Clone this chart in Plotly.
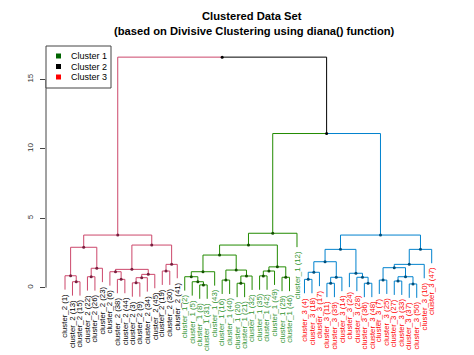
import plotly.graph_objects as go

# ---------------- data ----------------
leaf_labels = [
    "cluster_2 (1)", "cluster_2 (13)", "cluster_2 (15)", "cluster_2 (22)", "cluster_2 (26)",
    "cluster_2 (23)", "cluster_2 (6)", "cluster_2 (38)", "cluster_2 (44)", "cluster_2 (3)",
    "cluster_2 (9)", "cluster_2 (34)", "cluster_2 (45)", "cluster_2 (19)", "cluster_2 (30)",
    "cluster_2 (41)",
    "cluster_1 (2)", "cluster_1 (5)", "cluster_1 (8)", "cluster_1 (31)", "cluster_1 (43)",
    "cluster_1 (16)", "cluster_1 (40)", "cluster_1 (20)", "cluster_1 (21)", "cluster_1 (32)",
    "cluster_1 (35)", "cluster_1 (42)", "cluster_1 (49)", "cluster_1 (29)", "cluster_1 (46)",
    "cluster_1 (12)",
    "cluster_3 (4)", "cluster_3 (18)", "cluster_3 (17)", "cluster_3 (11)", "cluster_3 (39)",
    "cluster_3 (14)", "cluster_3 (24)", "cluster_3 (28)", "cluster_3 (36)", "cluster_3 (48)",
    "cluster_3 (7)", "cluster_3 (25)", "cluster_3 (27)", "cluster_3 (33)", "cluster_3 (37)",
    "cluster_3 (50)", "cluster_3 (10)", "cluster_3 (47)",
]
leaf_group = [2] * 16 + [1] * 16 + [3] * 18

# hclust-style merge table: negative = leaf (display order), positive = earlier merge row
merge_a = [-2, -1, -4, 3, 2, -8, -7, -10, 8, 9, 7, -14, 12, 11, 5,
           -19, -18, -17, 18, -22, -24, 21, 20, 19, -27, 25, -30, 26, 24, 29,
           -33, 31, -36, 33, 32, -41, -40, -39, 35, -43, -45, -47, 41, 40, 44, 45, 39,
           30, 15]
merge_b = [-3, 1, -5, -6, 4, -9, 6, -11, -12, -13, 10, -15, -16, 13, 14,
           -20, 16, 17, -21, -23, -25, -26, 22, 23, -28, -29, -31, 27, 28, -32,
           -34, -35, -37, -38, 34, -42, 36, 37, 38, -44, -46, -48, 42, 43, -49, -50, 46,
           47, 48]
merge_height = [0.43, 0.86, 0.79, 1.40, 2.91, 0.60, 1.15, 0.35, 0.72, 0.96, 1.32, 1.20, 1.68, 3.07, 3.79,
                0.20, 0.43, 0.79, 1.15, 0.55, 0.32, 0.84, 1.27, 2.35, 0.85, 1.20, 0.75, 1.50, 3.07, 3.92,
                0.60, 1.11, 0.32, 0.75, 1.87, 0.32, 0.75, 1.04, 2.76, 0.55, 0.48, 0.27, 0.79, 1.44, 1.68, 2.76, 3.79,
                11.10, 16.60]
hang = 1.0

y_ticks = [0, 5, 10, 15]
legend_labels = ["Cluster 1", "Cluster 2", "Cluster 3"]

title_line1 = "Clustered Data Set"
title_line2 = "(based on Divisive Clustering using diana() function)"

# ---------------- styles ----------------
FONT = "Liberation Sans, Arial, sans-serif"
branch_colors = {2: "#CC476B", 1: "#228B00", 3: "#0082CE"}
dot_colors = {2: "#7A2040", 1: "#145200", 3: "#004F7C", 0: "#000000"}
label_colors = {1: "#2F942F", 2: "#000000", 3: "#FF0000"}
legend_colors = ["#006400", "#000000", "#FF0000"]
cluster_root_row = {15: 2, 30: 1, 47: 3}

# page body has an 8px margin: lay the figure out in window pixels minus that offset
OFF = 8
WIN_W, WIN_H = 474, 355
W, H = WIN_W - OFF, WIN_H - OFF
plot_left, plot_right, plot_top, plot_bottom = 46, 450, 50, 350   # window pixels
L, R, T, B = plot_left - OFF, WIN_W - plot_right, plot_top - OFF, WIN_H - plot_bottom
px_leaf1, px_leafN = 65.0, 431.7
py_zero, py_per_unit = 287.7, 13.89
n = len(leaf_labels)
kx = (px_leafN - px_leaf1) / (n - 1)
x_range = [1 - (px_leaf1 - plot_left) / kx, 1 + (plot_right - px_leaf1) / kx]
y_range = [(py_zero - plot_bottom) / py_per_unit, (py_zero - plot_top) / py_per_unit]


def pxx(p):
    return (p - plot_left) / (plot_right - plot_left)


def pxy(p):
    return (plot_bottom - p) / (plot_bottom - plot_top)


# ---------------- tree layout ----------------
node_x, node_h = {}, {}
for i, (a, b, h) in enumerate(zip(merge_a, merge_b, merge_height), start=1):
    xa = float(-a) if a < 0 else node_x[a]
    xb = float(-b) if b < 0 else node_x[b]
    node_x[i] = (xa + xb) / 2
    node_h[i] = h

root = len(merge_height)
node_group = {root: 0}
segs = {0: ([], []), 1: ([], []), 2: ([], []), 3: ([], [])}
for i in range(root, 0, -1):
    g_parent = node_group[i]
    for c in (merge_a[i - 1], merge_b[i - 1]):
        if c < 0:
            gc = g_parent
            cx, ch = float(-c), node_h[i] - hang
        else:
            gc = cluster_root_row.get(c, g_parent)
            node_group[c] = gc
            cx, ch = node_x[c], node_h[c]
        xs, ys = segs[gc]
        xs += [node_x[i], cx, cx, None]
        ys += [node_h[i], node_h[i], ch, None]

fig = go.Figure()
for g, (xs, ys) in segs.items():
    if not xs:
        continue
    fig.add_trace(go.Scatter(x=xs, y=ys, mode="lines",
                             line=dict(color=branch_colors.get(g, "#000000"), width=1),
                             hoverinfo="skip", showlegend=False))

# node dots
for g in (0, 1, 2, 3):
    ids = [i for i in node_x if node_group[i] == g]
    fig.add_trace(go.Scatter(x=[node_x[i] for i in ids], y=[node_h[i] for i in ids],
                             mode="markers", marker=dict(size=3, color=dot_colors[g]),
                             hoverinfo="skip", showlegend=False))

# leaf labels
parent_h = {}
for i, (a, b) in enumerate(zip(merge_a, merge_b), start=1):
    for c in (a, b):
        if c < 0:
            parent_h[-c] = merge_height[i - 1]
annotations = []
for k, lab in enumerate(leaf_labels, start=1):
    annotations.append(dict(x=k, y=parent_h[k] - hang, xref="x", yref="y", text=lab,
                            textangle=-90, showarrow=False, xanchor="center", yanchor="top",
                            yshift=-2, font=dict(family=FONT, size=7.8,
                                                 color=label_colors[leaf_group[k - 1]])))

# titles
annotations.append(dict(x=pxx(252), y=pxy(16), xref="paper", yref="paper", showarrow=False,
                        text="<b>%s</b>" % title_line1, xanchor="center", yanchor="middle",
                        font=dict(family=FONT, size=11.2, color="#000000")))
annotations.append(dict(x=pxx(254), y=pxy(31), xref="paper", yref="paper", showarrow=False,
                        text="<b>%s</b>" % title_line2, xanchor="center", yanchor="middle",
                        font=dict(family=FONT, size=11.2, color="#000000")))

shapes = []
# y-axis line from first to last tick (R style)
shapes.append(dict(type="line", xref="paper", yref="y", x0=0, x1=0, y0=y_ticks[0], y1=y_ticks[-1],
                   line=dict(color="#444444", width=1)))
# legend box
shapes.append(dict(type="rect", xref="paper", yref="paper", x0=pxx(46), x1=pxx(111),
                   y0=pxy(88), y1=pxy(46), line=dict(color="#444444", width=1),
                   fillcolor="white", layer="above"))
row_y = [56, 66.5, 77]
for lab, col, ry in zip(legend_labels, legend_colors, row_y):
    shapes.append(dict(type="rect", xref="paper", yref="paper", x0=pxx(56), x1=pxx(61),
                       y0=pxy(ry + 2.5), y1=pxy(ry - 2.5), line=dict(width=0),
                       fillcolor=col, layer="above"))
    annotations.append(dict(x=pxx(69), y=pxy(ry), xref="paper", yref="paper", showarrow=False,
                            text=lab, xanchor="left", yanchor="middle",
                            font=dict(family=FONT, size=9, color="#000000")))

fig.update_layout(
    width=W, height=H,
    margin=dict(l=L, r=R, t=T, b=B, pad=0),
    paper_bgcolor="white", plot_bgcolor="white",
    showlegend=False,
    annotations=annotations, shapes=shapes,
    xaxis=dict(range=x_range, visible=False, fixedrange=True),
    yaxis=dict(range=y_range, tickvals=y_ticks, ticktext=[str(v) for v in y_ticks],
               ticks="outside", ticklen=5, tickcolor="#444444", tickangle=-90,
               ticklabelstandoff=4,
               tickfont=dict(family=FONT, size=8, color="#333333"),
               showgrid=False, zeroline=False, showline=False, fixedrange=True),
)

fig.write_html("out.html")
